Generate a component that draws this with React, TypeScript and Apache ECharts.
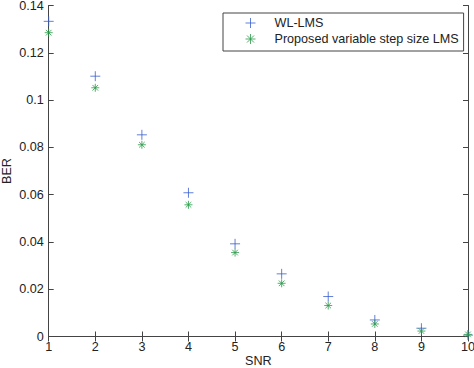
import React, { useEffect, useRef } from "react";
import * as echarts from "echarts";

const snr = [1, 2, 3, 4, 5, 6, 7, 8, 9, 10];
const wlLms = [0.1333, 0.1101, 0.0853, 0.0608, 0.0392, 0.0265, 0.0169, 0.007, 0.0035, 0.0006];
const proposed = [0.1285, 0.1052, 0.0811, 0.0557, 0.0355, 0.0225, 0.0131, 0.0053, 0.0023, 0.0009];
const seriesNames = ["WL-LMS", "Proposed variable step size LMS"];

const PLUS = "path://M0,5L10,5M5,0L5,10";
const STAR = "path://M0,5L10,5M5,0L5,10M1.5,1.5L8.5,8.5M1.5,8.5L8.5,1.5";

export default function App() {
  const ref = useRef<HTMLDivElement>(null);
  useEffect(() => {
    const chart = echarts.init(ref.current!, null, { renderer: "svg" });
    const font = "Liberation Sans, Arial, sans-serif";
    const fs = 12.6;
    const axisLine = { show: true, lineStyle: { color: "#444", width: 1 } };
    chart.setOption({
      animation: false,
      backgroundColor: "#fff",
      textStyle: { fontFamily: font },
      grid: { left: 48.7, right: 6, top: 5.5, bottom: 31.5, containLabel: false, outerBoundsMode: "none" },
      legend: {
        left: 223,
        top: 13,
        orient: "vertical",
        backgroundColor: "#fff",
        borderColor: "#444",
        borderWidth: 1,
        borderRadius: 0,
        padding: [3, 5, 5, 22],
        itemWidth: 10,
        itemHeight: 10,
        itemGap: 2,
        textStyle: { fontFamily: font, fontSize: fs, lineHeight: 14, color: "#222", padding: [0, 0, 0, 14] },
        data: [
          { name: seriesNames[0], icon: PLUS, itemStyle: { color: "transparent", borderColor: "#3a5fcd", borderWidth: 1 } },
          { name: seriesNames[1], icon: STAR, itemStyle: { color: "transparent", borderColor: "#2a9a4a", borderWidth: 1 } },
        ],
      },
      xAxis: [
        {
          type: "value",
          min: 1,
          max: 10,
          interval: 1,
          name: "SNR",
          nameLocation: "middle",
          nameGap: 18.5,
          nameMoveOverlap: false,
          nameTextStyle: { fontFamily: font, fontSize: fs, lineHeight: 12, color: "#222" },
          axisLine,
          axisTick: { inside: true, length: 5, lineStyle: { color: "#444" } },
          axisLabel: { fontFamily: font, fontSize: fs, color: "#222", margin: 3.5 },
          splitLine: { show: false },
        },
        {
          type: "value",
          position: "top",
          min: 1,
          max: 10,
          interval: 1,
          axisLine,
          axisTick: { inside: true, length: 5, lineStyle: { color: "#444" } },
          axisLabel: { show: false },
          splitLine: { show: false },
        },
      ],
      yAxis: [
        {
          type: "value",
          min: 0,
          max: 0.14,
          interval: 0.02,
          name: "BER",
          nameLocation: "middle",
          nameGap: 35,
          nameMoveOverlap: false,
          nameTextStyle: { fontFamily: font, fontSize: fs, lineHeight: 13, color: "#222" },
          axisLine,
          axisTick: { inside: true, length: 5, lineStyle: { color: "#444" } },
          axisLabel: { fontFamily: font, fontSize: fs, color: "#222", margin: 5 },
          splitLine: { show: false },
        },
        {
          type: "value",
          position: "right",
          min: 0,
          max: 0.14,
          interval: 0.02,
          axisLine,
          axisTick: { inside: true, length: 5, lineStyle: { color: "#444" } },
          axisLabel: { show: false },
          splitLine: { show: false },
        },
      ],
      series: [
        {
          name: seriesNames[0],
          type: "scatter",
          symbol: PLUS,
          symbolSize: 10,
          itemStyle: { color: "transparent", borderColor: "#3a5fcd", borderWidth: 1 },
          data: snr.map((x, i) => [x, wlLms[i]]),
        },
        {
          name: seriesNames[1],
          type: "scatter",
          symbol: STAR,
          symbolSize: 8,
          itemStyle: { color: "transparent", borderColor: "#2a9a4a", borderWidth: 1 },
          data: snr.map((x, i) => [x, proposed[i]]),
        },
      ],
    });
    return () => chart.dispose();
  }, []);
  return <div ref={ref} style={{ width: 474, height: 368, position: "absolute", left: 0, top: 0 }} />;
}
